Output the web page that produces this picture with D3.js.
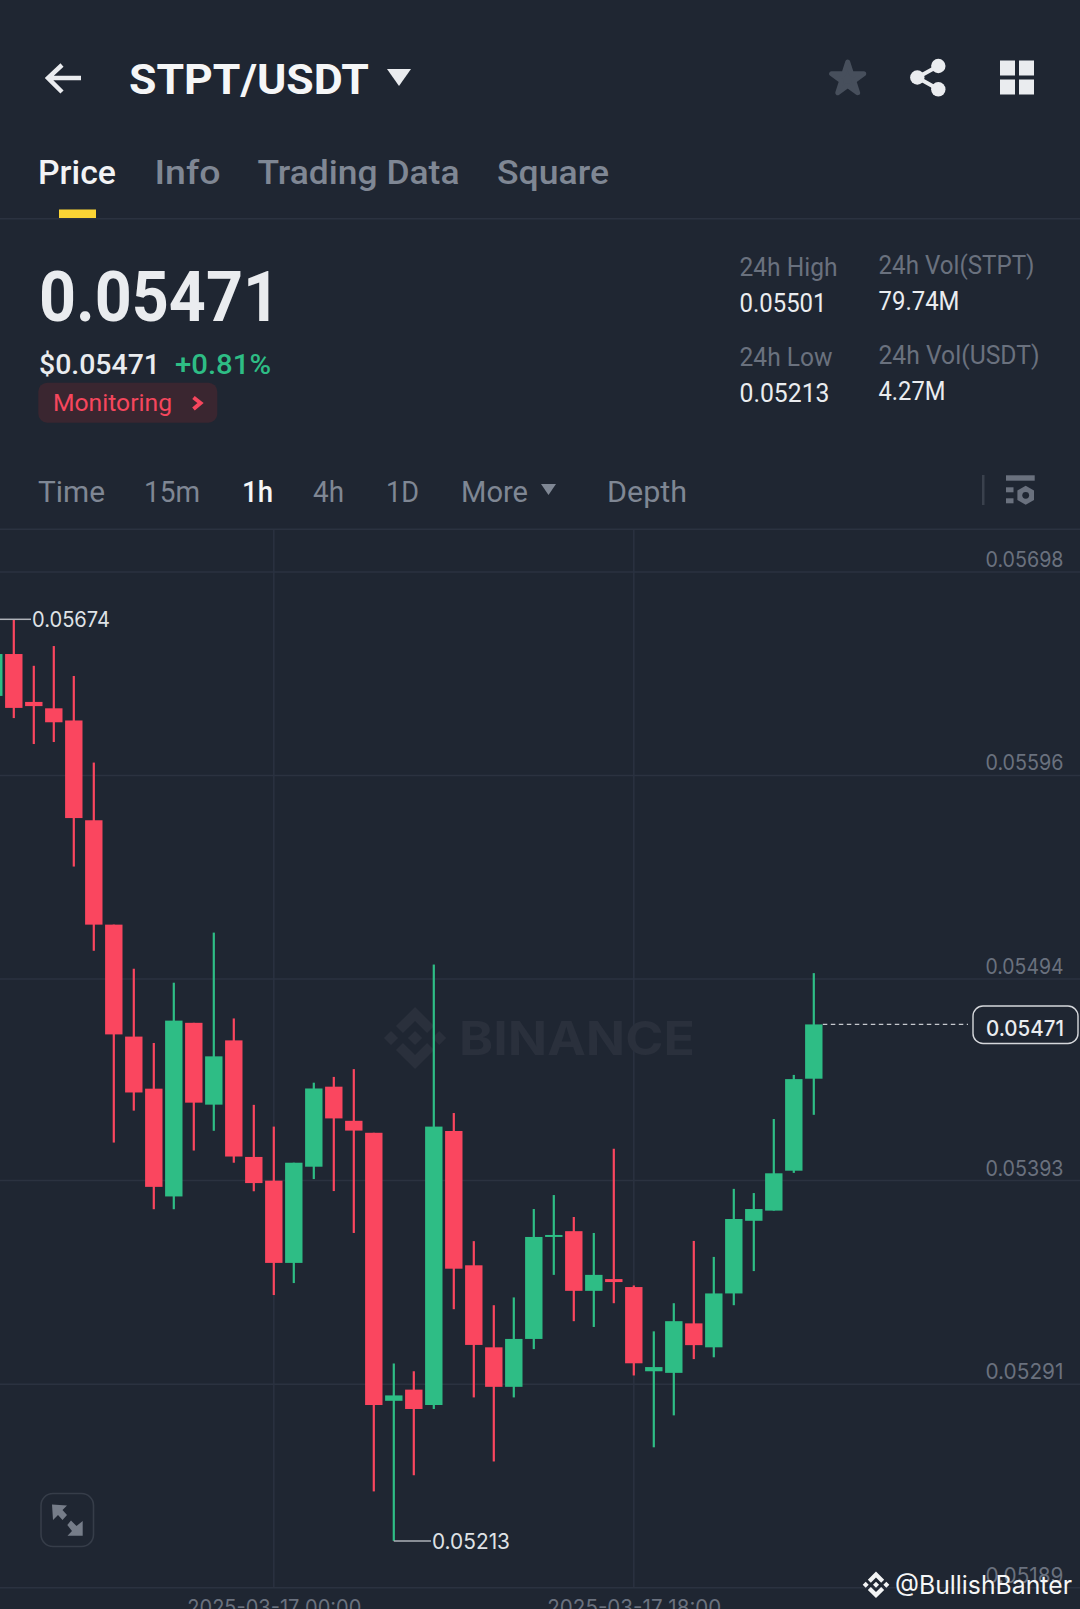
<!DOCTYPE html>
<html><head><meta charset="utf-8">
<script src="https://cdn.jsdelivr.net/npm/d3@7"></script>
<style>html,body{margin:0;padding:0;background:#1f2632;overflow:hidden}svg{display:block}</style>
</head><body><svg id="c" width="1080" height="1609"></svg>
<script>
// hours relative to 2025-03-17 00:00
const hourOffset=[-14,-13,-12,-11,-10,-9,-8,-7,-6,-5,-4,-3,-2,-1,0,1,2,3,4,5,6,7,8,9,10,11,12,13,14,15,16,17,18,19,20,21,22,23,24,25,26,27];
const open =[0.056356,0.056566,0.056326,0.056294,0.056233,0.055733,0.055210,0.054649,0.054388,0.053848,0.054718,0.054308,0.054630,0.054046,0.053927,0.053515,0.053997,0.054398,0.054227,0.054167,0.052824,0.052880,0.052803,0.054176,0.053503,0.053092,0.052894,0.053134,0.053645,0.053674,0.053375,0.053434,0.053394,0.052972,0.052964,0.053212,0.053092,0.053362,0.053726,0.053777,0.053977,0.054438];
const close=[0.056566,0.056296,0.056305,0.056224,0.055744,0.055210,0.054660,0.054369,0.053896,0.054729,0.054318,0.054550,0.054048,0.053915,0.053515,0.054017,0.054389,0.054239,0.054178,0.052803,0.052851,0.052783,0.054198,0.053486,0.053104,0.052894,0.053134,0.053645,0.053655,0.053375,0.053455,0.053419,0.053012,0.052993,0.053223,0.053103,0.053362,0.053735,0.053785,0.053964,0.054436,0.054710];
const high =[0.056620,0.056740,0.056507,0.056606,0.056456,0.056022,0.055210,0.054989,0.054617,0.054919,0.054718,0.055170,0.054740,0.054307,0.054198,0.054017,0.054418,0.054447,0.054486,0.054167,0.053011,0.052972,0.055010,0.054266,0.053624,0.053303,0.053342,0.053785,0.053855,0.053745,0.053665,0.054087,0.053402,0.053172,0.053313,0.053625,0.053545,0.053886,0.053865,0.054236,0.054457,0.054967];
const low  =[0.056300,0.056245,0.056115,0.056125,0.055501,0.055079,0.054118,0.054278,0.053784,0.053784,0.054078,0.054177,0.054017,0.053874,0.053354,0.053414,0.053935,0.053875,0.053665,0.052370,0.052122,0.052451,0.052783,0.053283,0.052841,0.052520,0.052841,0.053083,0.053455,0.053223,0.053194,0.053313,0.052951,0.052591,0.052751,0.053033,0.053042,0.053303,0.053474,0.053777,0.053966,0.054257];
const priceTicks=[0.05698,0.05596,0.05494,0.05393,0.05291,0.05189];
const timeTickHours=[0,18];
const lastPrice=0.05471, maxPrice=0.05674, minPrice=0.05213;
const tabs=["Price","Info","Trading Data","Square"];
const intervals=["Time","15m","1h","4h","1D","More","Depth"];

const BG="#1f2632",GRID="#2b3240",RED="#fa465f",GREEN="#2ebd85",WHITE="#eaecef",GRAY="#7f8794",AXIS="#6a717e";
const FONT="Roboto, 'Noto Sans', sans-serif", MONO="Inter, Roboto, sans-serif";
const svg=d3.select("#c");
svg.append("rect").attr("width",1080).attr("height",1609).attr("fill",BG);
function T(x,y,s,size,color,weight,len,family){
  const t=svg.append("text").attr("x",x).attr("y",y).text(s).attr("font-family",family||FONT).attr("font-size",size).attr("fill",color).attr("font-weight",weight||400);
  if(len)t.attr("textLength",len).attr("lengthAdjust","spacingAndGlyphs");
  return t;
}
function P(d,fill,stroke,sw){return svg.append("path").attr("d",d).attr("fill",fill||"none").attr("stroke",stroke||"none").attr("stroke-width",sw||0);}

// ---------- header
P("M81 78H48M62 65L48 78L62 92",null,WHITE,4.5);
T(129,94,"STPT/USDT",43,"#f5f6f7",700,240);
P("M387 69H411L399 86Z",WHITE);
P(d3.symbol(d3.symbolStar,320)(),"#474f5c","#474f5c",5).attr("stroke-linejoin","round").attr("transform","translate(847.7,79)");
P("M938.3 66L917.3 77.5L938.3 89.3",null,WHITE,4);
[[938.3,66],[917.3,77.5],[938.3,89.3]].forEach(p=>svg.append("circle").attr("cx",p[0]).attr("cy",p[1]).attr("r",7.2).attr("fill",WHITE));
[[1000,60.5],[1019,60.5],[1000,79.5],[1019,79.5]].forEach(p=>svg.append("rect").attr("x",p[0]).attr("y",p[1]).attr("width",15).attr("height",15).attr("fill",WHITE));

// tabs
[[38,78],[154.5,66],[257.5,202],[497,112]].forEach((p,i)=>T(p[0],184,tabs[i],33,i?GRAY:"#f2f3f5",500,p[1]));
svg.append("rect").attr("x",59).attr("y",209.5).attr("width",37).attr("height",8.5).attr("fill","#fcd535");
svg.append("rect").attr("x",0).attr("y",218).attr("width",1080).attr("height",1.5).attr("fill",GRID);

// price block
T(39,321,"0.05471",70,WHITE,700,241);
T(39,374,"$0.05471",28,WHITE,500,121);
T(175,374,"+0.81%",28,GREEN,500,96);
svg.append("rect").attr("x",38.3).attr("y",382.7).attr("width",179).attr("height",40).attr("rx",9).attr("fill","#3a2630");
T(53,411,"Monitoring",24.5,"#f6465d",400,119);
P("M193.5 397.5L200.5 403L193.5 409",null,"#f6465d",4);
T(739.5,276,"24h High",25,AXIS,400,98);
T(739.5,312,"0.05501",25,WHITE,400,87);
T(878.5,274,"24h Vol(STPT)",25,AXIS,400,156);
T(878.5,310,"79.74M",25,WHITE,400,81);
T(739.5,366,"24h Low",25,AXIS,400,93);
T(739.5,402,"0.05213",25,WHITE,400,90);
T(878.5,364,"24h Vol(USDT)",25,AXIS,400,161);
T(878.5,400,"4.27M",25,WHITE,400,67);

// interval row
[[38,67],[144,56],[242,31],[313,31],[386,33],[461,67],[607,80]].forEach((p,i)=>T(p[0],502,intervals[i],29,i===2?"#f5f6f7":GRAY,i===2?500:400,p[1]));
P("M541 484H556L548.5 495Z",GRAY);
svg.append("rect").attr("x",982).attr("y",475).attr("width",2.5).attr("height",30).attr("fill","#3a414d");
svg.append("rect").attr("x",1006).attr("y",475.3).attr("width",28.7).attr("height",5.4).attr("fill",AXIS);
svg.append("rect").attr("x",1006).attr("y",487.3).attr("width",7.5).attr("height",5).attr("fill",AXIS);
svg.append("rect").attr("x",1006).attr("y",498.3).attr("width",7.5).attr("height",5).attr("fill",AXIS);
P("M1025.7 485.8L1034 490.6V500L1025.7 504.8L1017.4 500V490.6Z",AXIS);
svg.append("circle").attr("cx",1025.7).attr("cy",495.3).attr("r",3.4).attr("fill",BG);
svg.append("rect").attr("x",0).attr("y",528.5).attr("width",1080).attr("height",1.5).attr("fill",GRID);

// ---------- chart scales
const t0=Date.UTC(2025,2,17);
const time=h=>d3.utcHour.offset(new Date(t0),h);
const x=d3.scaleUtc().domain([time(hourOffset[0]),time(hourOffset[hourOffset.length-1])]).range([-6.2,813.8]);
const y=d3.scaleLinear().domain([priceTicks[5],priceTicks[0]]).range([1587.2,571.4]);

// grid & axes
const yAxis=d3.axisRight(y).tickValues(priceTicks).tickFormat(d3.format(".5f")).tickSize(1080);
const gy=svg.append("g").call(yAxis);
gy.select(".domain").remove();
gy.selectAll("line").attr("stroke",GRID).attr("stroke-width",1.5);
gy.selectAll("text").attr("font-family",MONO).attr("font-size",21).attr("fill",AXIS).attr("text-anchor","start").attr("x",985.5).attr("dy",0).attr("y",-5).attr("textLength",78).attr("lengthAdjust","spacingAndGlyphs");

const xAxis=d3.axisBottom(x).tickValues(timeTickHours.map(time)).tickFormat(d3.utcFormat("%Y-%m-%d %H:%M")).tickSize(0).tickPadding(0);
const gx=svg.append("g").attr("transform","translate(0,1615)").call(xAxis);
gx.select(".domain").remove();
gx.selectAll("line").remove();
gx.selectAll("text").attr("font-family",MONO).attr("font-size",21).attr("fill",AXIS).attr("dy",0).attr("y",0).attr("textLength",174).attr("lengthAdjust","spacingAndGlyphs");
timeTickHours.forEach(h=>svg.append("line").attr("x1",x(time(h))).attr("x2",x(time(h))).attr("y1",530).attr("y2",1587).attr("stroke",GRID).attr("stroke-width",1.5));

// watermark
const LOGO="M38.73 53.2l24.59-24.58 24.6 24.6 14.3-14.31L63.32 0 24.42 38.9l14.31 14.3zM0 63.31L14.3 49l14.31 14.31-14.31 14.3L0 63.31zM38.73 73.41l24.59 24.59 24.6-24.6 14.31 14.29-38.9 38.91-38.91-38.88-.02-.02 14.33-14.29zM98.28 63.31l14.3-14.31 14.31 14.3-14.31 14.31-14.3-14.3zM77.83 63.3L63.32 48.78 52.59 59.51l-1.24 1.23-2.54 2.54 14.51 14.52 14.51-14.5z";
P(LOGO,"#2a303c").attr("transform","translate(384,1007) scale(0.49)");
T(459,1055,"BINANCE",47,"#2a303c",700,236,MONO);

// ---------- candles
const data=hourOffset.map((h,i)=>({t:time(h),o:open[i],c:close[i],h:high[i],l:low[i]}));
const BW=17.4,WW=2.2;
const col=d=>d.c>=d.o?GREEN:RED;
const cg=svg.append("g");
cg.selectAll(".w").data(data).join("rect").attr("class","w")
  .attr("x",d=>x(d.t)-WW/2).attr("width",WW)
  .attr("y",d=>y(d.h)).attr("height",d=>y(d.l)-y(d.h)).attr("fill",col);
cg.selectAll(".b").data(data).join("rect").attr("class","b")
  .attr("x",d=>x(d.t)-BW/2).attr("width",BW)
  .attr("y",d=>y(Math.max(d.o,d.c))).attr("height",d=>Math.abs(y(d.o)-y(d.c))).attr("fill",col);

// ---------- annotations
const LBL="#dfe2e6", fmt=d3.format(".5f");
const lowest=d3.least(data,d=>d.l), lastD=data[data.length-1];
svg.append("line").attr("x1",0).attr("x2",31).attr("y1",y(maxPrice)).attr("y2",y(maxPrice)).attr("stroke","#aeb2b9").attr("stroke-width",1.5);
T(32,y(maxPrice)+8,fmt(maxPrice),21,LBL,400,78,MONO);
svg.append("line").attr("x1",x(lowest.t)).attr("x2",431).attr("y1",y(lowest.l)).attr("y2",y(lowest.l)).attr("stroke","#aeb2b9").attr("stroke-width",1.5);
T(432,y(lowest.l)+8.5,fmt(minPrice),21,LBL,400,78,MONO);
svg.append("line").attr("x1",x(lastD.t)+9).attr("x2",968).attr("y1",y(lastPrice)).attr("y2",y(lastPrice)).attr("stroke","#c5c8cd").attr("stroke-width",1.4).attr("stroke-dasharray","4.5 3.5");
svg.append("rect").attr("x",973).attr("y",1006).attr("width",105).attr("height",37.5).attr("rx",10).attr("fill",BG).attr("stroke","#d5d7db").attr("stroke-width",1.4);
T(986,1036,fmt(lastPrice),21,WHITE,500,78,MONO);

// expand button
svg.append("rect").attr("x",41).attr("y",1493.5).attr("width",52.5).attr("height",53).attr("rx",12).attr("fill","none").attr("stroke","#363d49").attr("stroke-width",1.6);
P("M52 1504.5L67 1505.5L62.5 1510L67 1515L62.5 1520L58 1515L53 1520Z","#767d89");
P("M82.7 1521V1535.7H67.5L72 1531L67.3 1525L71 1520.5L76.5 1526Z","#767d89");

// source tag
P(LOGO,"#f3f4f5").attr("transform","translate(862.7,1571.5) scale(0.21)");
T(895,1594.3,"@BullishBanter",25,"#f5f6f7",400,177,MONO);
</script></body></html>
